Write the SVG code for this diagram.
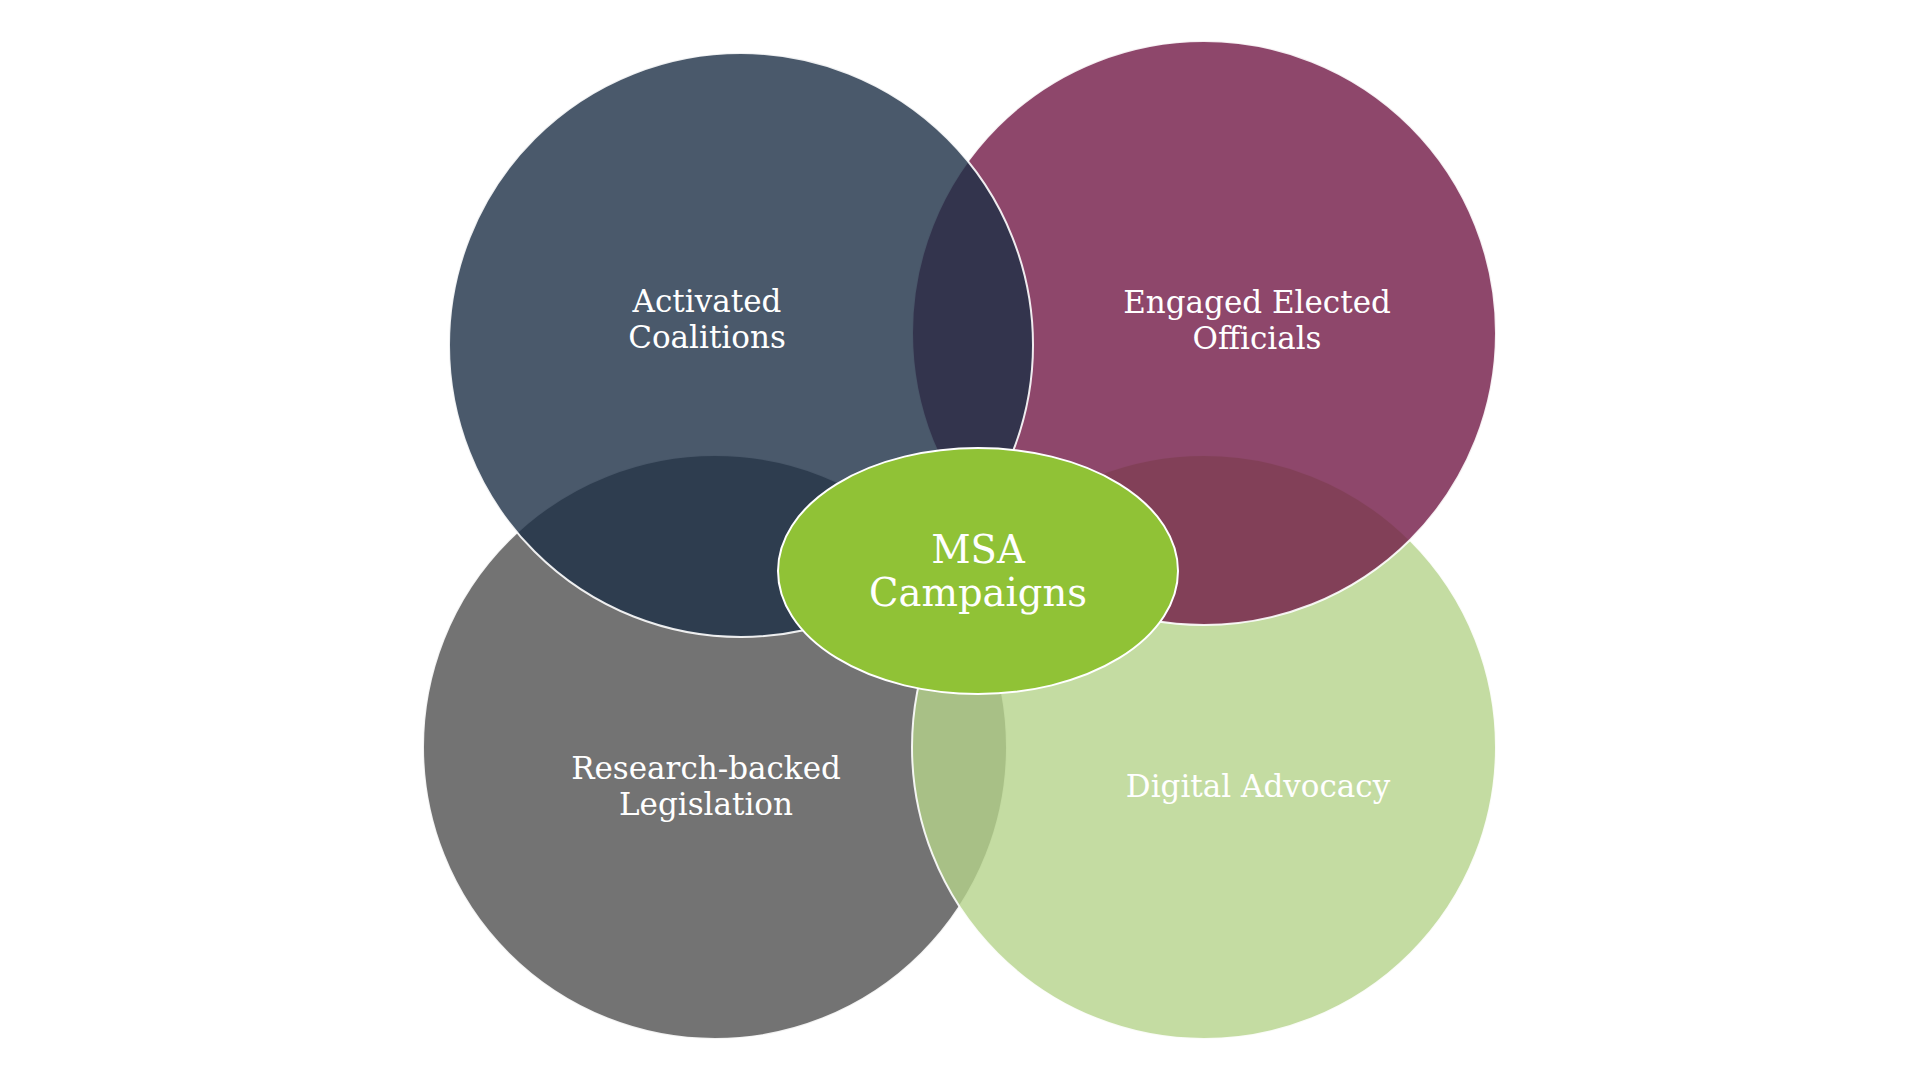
<svg xmlns="http://www.w3.org/2000/svg" width="1920" height="1080" viewBox="0 0 1920 1080">
<style>
.c{stroke:#ffffff;stroke-width:2;stroke-opacity:0.9}
.t{font-family:"DejaVu Serif","Liberation Serif",serif;fill:#ffffff;text-anchor:middle}
.s{font-size:31px}
.m{font-size:38.5px}
</style>
<rect width="1920" height="1080" fill="#ffffff"/>
<g id="node-research">
<circle class="c" cx="715" cy="747" r="292" fill="#505050" fill-opacity="0.8"/>
</g>
<g id="node-digital">
<circle class="c" cx="1204" cy="747" r="292" fill="#b5d38b" fill-opacity="0.8"/>
</g>
<g id="node-engaged">
<circle class="c" cx="1204" cy="333" r="292" fill="#721946" fill-opacity="0.8"/>
</g>
<g id="node-activated">
<circle class="c" cx="741" cy="345" r="292" fill="#1d2f46" fill-opacity="0.8"/>
</g>
<g id="labels">
<text class="t s" x="707" y="312">Activated<tspan x="707" y="348">Coalitions</tspan></text>
<text class="t s" x="1257" y="313">Engaged Elected<tspan x="1257" y="349">Officials</tspan></text>
<text class="t s" x="706" y="779">Research-backed<tspan x="706" y="815">Legislation</tspan></text>
<text class="t s" x="1258" y="797">Digital Advocacy</text>
</g>
<g id="node-msa">
<ellipse cx="978" cy="571" rx="200" ry="123" fill="#90c236" stroke="#ffffff" stroke-width="2"/>
<text class="t m" x="978" y="563">MSA<tspan x="978" y="606">Campaigns</tspan></text>
</g>
<g id="connectors"></g>
</svg>
